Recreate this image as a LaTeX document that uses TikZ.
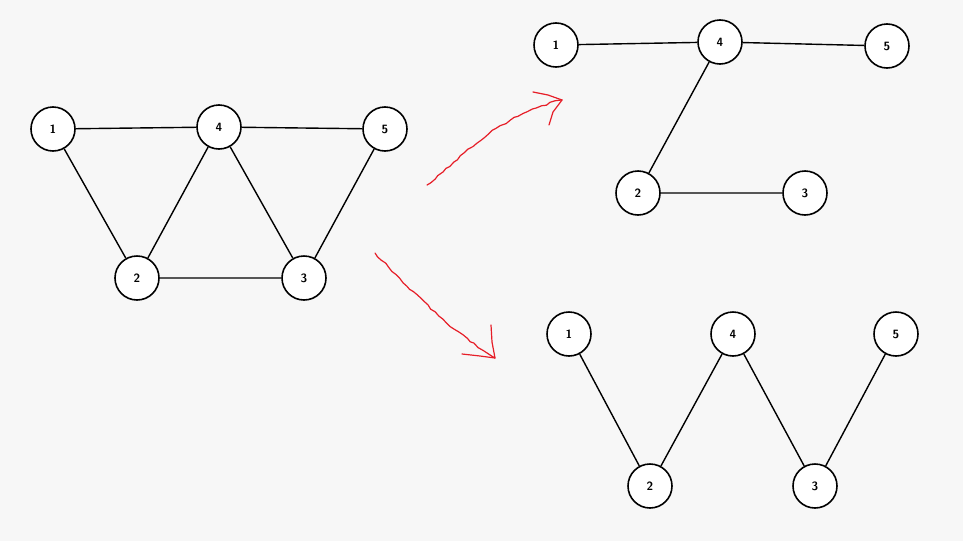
\documentclass[tikz,border=0pt]{standalone}
\usetikzlibrary{decorations.pathmorphing}
\begin{document}
\begin{tikzpicture}[x=1pt,y=-1pt,
  v/.style={circle,draw,line width=1.6pt,fill=white,minimum size=44pt,inner sep=0pt,font=\sffamily\bfseries\large},
  e/.style={line width=1.4pt},
  red/.style={draw={rgb,255:red,230;green,30;blue,40},line width=1.2pt,line cap=round,line join=round}]
\fill[fill={rgb,255:red,247;green,247;blue,247}] (0,0) rectangle (963,541);
\useasboundingbox (0,0) rectangle (963,541);
% left graph
\node[v] (a1) at (53,129) {1};
\node[v] (a4) at (219,127) {4};
\node[v] (a5) at (385,129) {5};
\node[v] (a2) at (137,278) {2};
\node[v] (a3) at (304,278) {3};
\draw[e] (a1)--(a4) (a4)--(a5) (a1)--(a2) (a2)--(a4) (a4)--(a3) (a3)--(a5) (a2)--(a3);
% top right
\node[v] (b1) at (556,45) {1};
\node[v] (b4) at (720,42) {4};
\node[v] (b5) at (887,46) {5};
\node[v] (b2) at (638,193) {2};
\node[v] (b3) at (805,193) {3};
\draw[e] (b1)--(b4) (b4)--(b5) (b4)--(b2) (b2)--(b3);
% bottom right
\node[v] (c1) at (569,334) {1};
\node[v] (c4) at (733,334) {4};
\node[v] (c5) at (896,334) {5};
\node[v] (c2) at (650,486) {2};
\node[v] (c3) at (815,486) {3};
\draw[e] (c1)--(c2) (c2)--(c4) (c4)--(c3) (c3)--(c5);
% red hand-drawn arrows
\coordinate (u0) at (427,185);
\coordinate (u1) at (562,100);
\draw[red,decorate,decoration={random steps,segment length=5pt,amplitude=1pt}]
  (u0) .. controls (470,150) and (500,115) .. (u1);
\draw[red] (533,92) -- (548,95) -- (562,100) -- (553,112) -- (549,125);
\coordinate (l0) at (375,253);
\coordinate (l1) at (495,358);
\draw[red,decorate,decoration={random steps,segment length=5pt,amplitude=1pt}]
  (l0) .. controls (410,290) and (450,330) .. (l1);
\draw[red] (462,354) -- (480,356) -- (495,358) -- (492,342) -- (491,325);
\end{tikzpicture}
\end{document}
